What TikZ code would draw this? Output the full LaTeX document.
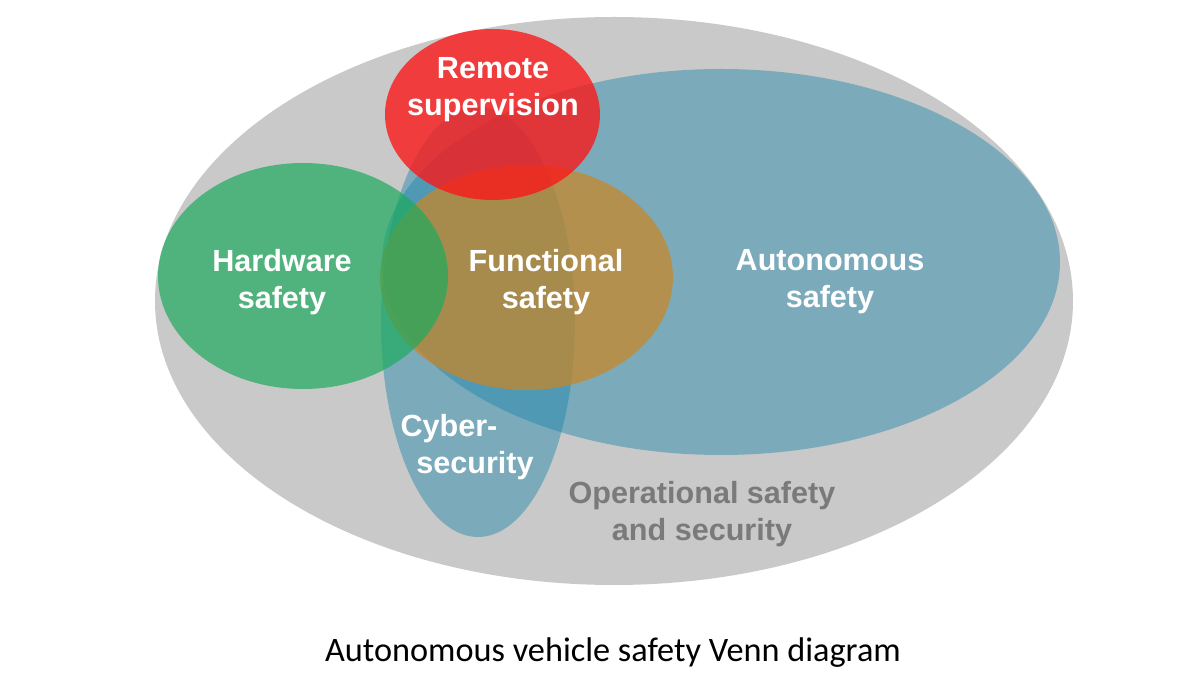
\documentclass[tikz,border=0pt]{standalone}
\usepackage{fontspec}
\setmainfont{Liberation Sans}
\newfontfamily\calibri{Carlito}
\usetikzlibrary{shapes.geometric}
\definecolor{opgrey}{RGB}{201,201,201}
\definecolor{optext}{RGB}{122,122,122}
\definecolor{autoblue}{RGB}{31,135,172}
\definecolor{funcorange}{RGB}{205,134,34}
\definecolor{hwgreen}{RGB}{29,171,93}
\definecolor{remotered}{RGB}{250,25,25}
\tikzstyle{set} = [ellipse, inner sep=0pt, draw=none]
\tikzstyle{settext} = [text=white, font=\bfseries\fontsize{8.7}{10.5}\selectfont, align=center]

\begin{document}
\begin{tikzpicture}
    \useasboundingbox (0,0) rectangle (12,6.75);
    \node (operational) [set, fill=opgrey, minimum width=9.18cm, minimum height=5.68cm] at (6.14,3.74) {};
    \node (autonomous)  [set, fill=autoblue, fill opacity=0.46, minimum width=6.78cm, minimum height=3.86cm] at (7.21,4.13) {};
    \node (cybersec)    [set, fill=autoblue, fill opacity=0.46, minimum width=1.94cm, minimum height=4.30cm] at (4.78,3.53) {};
    \node (functional)  [set, fill=funcorange, fill opacity=0.7, minimum width=2.93cm, minimum height=2.25cm] at (5.265,3.975) {};
    \node (hardware)    [set, fill=hwgreen, fill opacity=0.7, minimum width=2.90cm, minimum height=2.26cm] at (3.03,3.99) {};
    \node (remote)      [set, fill=remotered, fill opacity=0.8, minimum width=2.15cm, minimum height=1.71cm] at (4.925,5.605) {};

    \node (remote-text)      [settext] at (4.93,5.85) {Remote\\supervision};
    \node (hardware-text)    [settext] at (2.82,3.93) {Hardware\\safety};
    \node (functional-text)  [settext] at (5.46,3.93) {Functional\\safety};
    \node (autonomous-text)  [settext] at (8.30,3.93) {Autonomous\\safety};
    \node (cyber-text)       [settext, anchor=base] at (4.49,2.38) {Cyber-};
    \node (security-text)    [settext, anchor=base] at (4.75,2.01) {security};
    \node (operational-text) [settext, text=optext] at (7.02,1.61) {Operational safety\\and security};

    \node (caption) [anchor=base, font=\calibri\fontsize{9.75}{12}\selectfont] at (6.13,0.13) {Autonomous vehicle safety Venn diagram};
  \end{tikzpicture}
\end{document}
